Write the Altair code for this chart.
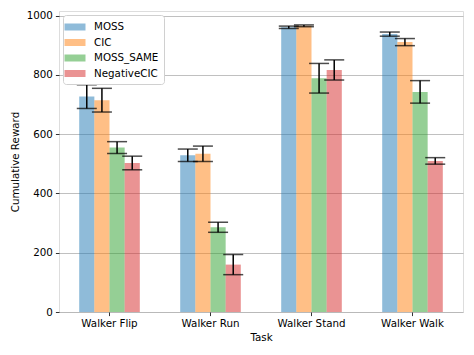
import altair as alt
import pandas as pd

tasks = ["Walker Flip", "Walker Run", "Walker Stand", "Walker Walk"]
series = ["MOSS", "CIC", "MOSS_SAME", "NegativeCIC"]
colors = ["#1f77b4", "#ff7f0e", "#2ca02c", "#d62728"]

means = {
    "MOSS":        [727, 529, 961, 938],
    "CIC":         [715, 534, 966, 911],
    "MOSS_SAME":   [555, 286, 789, 743],
    "NegativeCIC": [503, 160, 817, 510],
}
errs = {
    "MOSS":        [40, 21, 4, 7],
    "CIC":         [40, 26, 3, 12],
    "MOSS_SAME":   [20, 17, 50, 38],
    "NegativeCIC": [23, 34, 34, 11],
}

rows = []
for s in series:
    for i, t in enumerate(tasks):
        m = means[s][i]
        e = errs[s][i]
        rows.append({"Task": t, "Series": s, "Mean": m, "Low": m - e, "High": m + e})
df = pd.DataFrame(rows)

FONT = "DejaVu Sans"
FS = 10.3

x_enc = alt.X(
    "Task:N",
    sort=tasks,
    title="Task",
    scale=alt.Scale(paddingInner=0.4, paddingOuter=0.2),
    axis=alt.Axis(labelAngle=0, domain=False, tickColor="black", tickWidth=0.8,
                  tickSize=3.6, labelPadding=3, titlePadding=4,
                  labelFont=FONT, titleFont=FONT, labelFontSize=FS, titleFontSize=FS,
                  labelColor="black", titleColor="black", titleFontWeight="normal"),
)
xoff = alt.XOffset("Series:N", sort=series, scale=alt.Scale(paddingInner=0, paddingOuter=0))
y_scale = alt.Scale(domain=[0, 1016], nice=False)

base = alt.Chart(df).encode(x=x_enc, xOffset=xoff)

bars = base.mark_bar(opacity=0.5).encode(
    y=alt.Y("Mean:Q", scale=y_scale, title="Cumulative Reward",
            axis=alt.Axis(values=[0, 200, 400, 600, 800, 1000], format="d", domain=False,
                          tickColor="black", tickWidth=0.8, tickSize=3.6,
                          grid=True, gridColor="#b0b0b0", gridWidth=0.8,
                          labelPadding=3, titlePadding=6,
                          labelFont=FONT, titleFont=FONT, labelFontSize=FS, titleFontSize=FS,
                          labelColor="black", titleColor="black", titleFontWeight="normal")),
    color=alt.Color(
        "Series:N",
        sort=series,
        scale=alt.Scale(domain=series, range=colors),
        legend=alt.Legend(
            title=None,
            orient="top-left",
            offset=4,
            padding=5,
            fillColor="white",
            strokeColor="#d0d0d0",
            cornerRadius=3,
            symbolType="M-1.5,-0.5H1.5V0.5H-1.5Z",
            symbolSize=196,
            symbolOpacity=0.5,
            symbolStrokeWidth=0,
            labelOffset=12,
            rowPadding=2.5,
            labelFont=FONT,
            labelFontSize=FS,
            labelColor="black",
        ),
    ),
)

rule = base.mark_rule(color="black", strokeWidth=1.5).encode(
    y=alt.Y("Low:Q", scale=y_scale), y2="High:Q"
)
cap_hi = base.mark_tick(color="black", thickness=1.5, size=20).encode(
    y=alt.Y("High:Q", scale=y_scale)
)
cap_lo = base.mark_tick(color="black", thickness=1.5, size=20).encode(
    y=alt.Y("Low:Q", scale=y_scale)
)

chart = (
    alt.layer(bars, rule, cap_hi, cap_lo)
    .properties(
        width=404,
        height=301,
        autosize=alt.AutoSizeParams(type="none"),
        padding={"left": 51, "top": 3, "right": 3, "bottom": 35},
    )
    .configure_view(stroke="black", strokeWidth=1)
    .configure(background="white")
)

chart.save("out.html", embed_options={"renderer": "svg", "actions": False})
